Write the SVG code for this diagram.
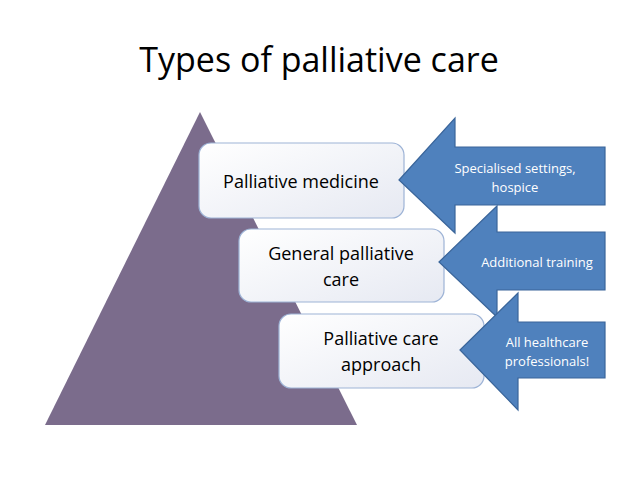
<svg xmlns="http://www.w3.org/2000/svg" width="638" height="478" viewBox="0 0 638 478">
<defs>
<linearGradient id="bx" x1="0" y1="0" x2="1" y2="1"><stop offset="0" stop-color="#ffffff"/><stop offset="1" stop-color="#e6e9f2"/></linearGradient>
<style>
.box{fill:url(#bx);stroke:#9db3d6;stroke-width:1.2}
.arr{fill:#4f81bd;stroke:#3a659a;stroke-width:1.2}
.t{font-family:"Open Sans","Liberation Sans",sans-serif;fill:#000}
.w{font-family:"Open Sans","Liberation Sans",sans-serif;fill:#fff;font-size:13px}
</style>
</defs>
<rect width="638" height="478" fill="#fff"/>
<text class="t" x="319" y="72" text-anchor="middle" font-size="34">Types of palliative care</text>
<polygon id="pyramid" points="200,112 45,425 357,425" fill="#7b6c8c"/>
<g id="n1"><rect class="box" x="199" y="143" width="205" height="75" rx="12"/><text class="t" x="301" y="188" text-anchor="middle" font-size="18">Palliative medicine</text></g>
<g id="n2"><rect class="box" x="239" y="229" width="205" height="73" rx="12"/><text class="t" x="341" y="260" text-anchor="middle" font-size="18">General palliative<tspan x="341" dy="26">care</tspan></text></g>
<g id="n3"><rect class="box" x="279" y="314" width="205" height="74" rx="12"/><text class="t" x="381" y="345" text-anchor="middle" font-size="18">Palliative care<tspan x="381" dy="26">approach</tspan></text></g>
<g id="connectors">
<g id="a1"><polygon class="arr" points="399,180 455,118 455,147 605,147 605,205 455,205 455,233"/><text class="w" x="515" y="173" text-anchor="middle">Specialised settings,<tspan x="515" dy="19">hospice</tspan></text></g>
<g id="a2"><polygon class="arr" points="439,262 497,206 497,232 605,232 605,290 497,290 497,317"/><text class="w" x="537" y="267" text-anchor="middle">Additional training</text></g>
<g id="a3"><polygon class="arr" points="460,350 518,293 518,322 605,322 605,378 518,378 518,410"/><text class="w" x="547" y="347" text-anchor="middle">All healthcare<tspan x="547" dy="19">professionals!</tspan></text></g>
</g>
</svg>
